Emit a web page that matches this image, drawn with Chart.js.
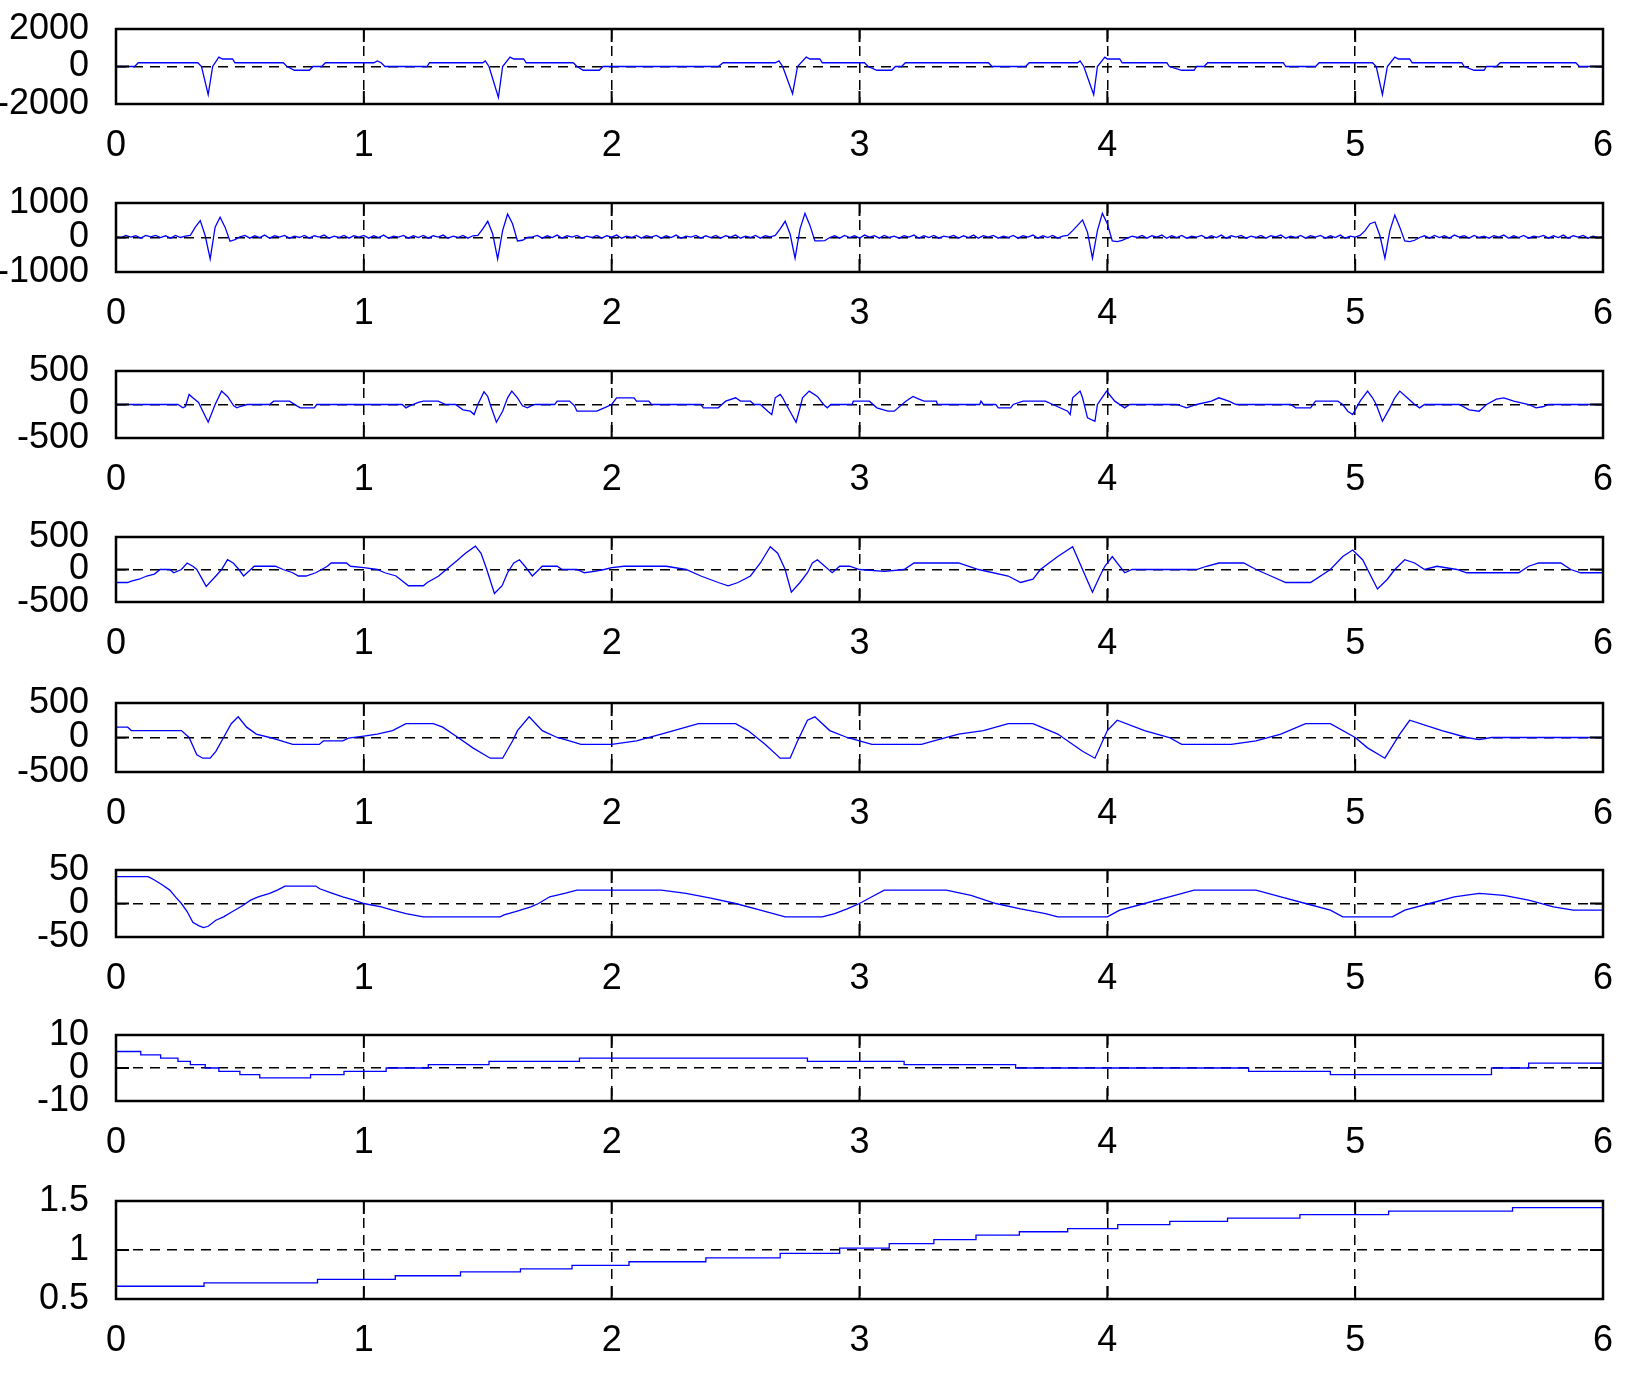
<!DOCTYPE html>
<html>
<head>
<meta charset="utf-8">
<script src="https://cdn.jsdelivr.net/npm/chart.js@4.4.1/dist/chart.umd.min.js"></script>
<style>
  html, body { margin: 0; padding: 0; background: #fff; }
  #wrap { position: relative; width: 1630px; height: 1378px; overflow: hidden; }
  #wrap canvas { position: absolute; left: 0; }
</style>
</head>
<body>
<div id="wrap"></div>
<script>
// x axis (seconds)
const xTicks = [0, 1, 2, 3, 4, 5, 6];

// y tick labels per panel
const yTicks1 = [-2000, 0, 2000];
const yTicks2 = [-1000, 0, 1000];
const yTicks3 = [-500, 0, 500];
const yTicks4 = [-500, 0, 500];
const yTicks5 = [-500, 0, 500];
const yTicks6 = [-50, 0, 50];
const yTicks7 = [-10, 0, 10];
const yTicks8 = [0.5, 1, 1.5];

// panel 1: [t, value]
const p1 = [[0,0],[0.075,0],[0.09,200],[0.33,200],[0.345,0],[0.372,-1500],[0.39,0],[0.415,500],[0.43,400],
  [0.47,400],[0.48,200],[0.675,200],[0.69,0],[0.72,-200],[0.78,-200],[0.795,0],[0.83,0],[0.845,200],
  [1.04,200],[1.055,300],[1.07,200],[1.085,0],[1.255,0],[1.265,200],[1.48,200],[1.49,300],[1.505,0],
  [1.543,-1650],[1.56,0],[1.59,500],[1.605,400],[1.645,400],[1.655,200],[1.845,200],[1.86,0],[1.885,-200],
  [1.95,-200],[1.965,0],[2.43,0],[2.45,200],[2.66,200],[2.675,300],[2.69,0],[2.73,-1450],[2.75,0],
  [2.785,500],[2.8,400],[2.84,400],[2.85,200],[3.02,200],[3.035,0],[3.07,-200],[3.13,-200],[3.145,0],
  [3.17,0],[3.185,200],[3.52,200],[3.535,0],[3.67,0],[3.685,200],[3.88,200],[3.89,300],[3.905,0],
  [3.945,-1500],[3.96,0],[3.99,500],[4.0,400],[4.05,400],[4.06,200],[4.24,200],[4.25,0],[4.3,-200],
  [4.35,-200],[4.36,0],[4.39,0],[4.405,200],[4.71,200],[4.72,0],[4.84,0],[4.855,200],[5.07,200],
  [5.085,0],[5.11,-1500],[5.13,0],[5.16,500],[5.175,400],[5.22,400],[5.23,200],[5.43,200],[5.44,0],
  [5.48,-200],[5.52,-200],[5.53,0],[5.57,0],[5.585,200],[5.89,200],[5.905,0],[6,0]];

// panel 2: sampled every 0.02 s from t = 0
const p2Step = 0.02;
const p2 = [20,0,60,10,50,-20,60,20,60,0,
  50,-20,60,0,40,60,300,490,50,-620,
  300,590,300,-110,-60,20,60,-20,50,0,
  70,-20,50,10,60,-20,40,0,60,-20,
  50,10,70,-20,40,0,60,-20,50,10,
  60,-20,50,0,70,-20,40,10,60,-20,
  50,0,60,-20,50,10,70,-20,40,0,
  60,-20,50,60,250,470,100,-620,200,680,
  400,-100,-80,0,20,60,-20,50,0,70,
  -20,50,10,60,-20,40,0,60,-20,50,
  10,70,-20,40,0,60,-20,50,10,60,
  -20,50,0,70,-20,40,10,60,-20,50,
  0,60,-20,50,10,70,-20,40,0,60,
  -20,50,20,60,250,470,100,-600,250,700,
  350,-100,-100,-90,0,50,-20,60,0,50,
  -20,70,10,50,-20,60,0,40,-20,50,
  10,70,-20,50,0,60,-20,40,10,60,
  -20,50,0,70,-20,50,10,60,-20,40,
  0,60,-20,50,10,70,-20,50,0,60,
  -20,40,60,200,350,510,150,-600,200,700,
  400,-100,-120,-80,-20,40,0,60,-20,50,
  10,70,-20,50,0,60,-20,40,10,60,
  -20,50,0,70,-20,50,10,60,-20,40,
  0,60,-20,50,20,70,-20,40,0,60,
  -20,50,10,60,-20,50,0,70,-20,40,
  10,60,200,400,450,50,-600,200,650,300,
  -100,-120,-80,0,50,-20,60,0,50,-20,
  70,10,50,-20,60,0,40,-20,50,10,
  70,-20,50,0,60,-20,40,10,60,-20,
  50,0,70,-20,50,10,60,-20,40,0,
  20];

// panel 3
const p3 = [[0,0],[0.25,0],[0.27,-50],[0.28,-30],[0.295,150],[0.31,100],[0.333,30],[0.372,-265],[0.4,0],
  [0.426,200],[0.45,120],[0.475,-20],[0.488,-50],[0.5,-30],[0.53,0],[0.62,0],[0.636,50],[0.7,50],
  [0.73,-20],[0.744,-50],[0.8,-50],[0.81,0],[1.155,0],[1.17,-50],[1.185,-20],[1.22,30],[1.24,50],
  [1.3,50],[1.33,0],[1.37,0],[1.4,-80],[1.43,-100],[1.445,-150],[1.46,0],[1.485,190],[1.5,120],
  [1.51,0],[1.535,-265],[1.56,-100],[1.58,100],[1.597,200],[1.62,100],[1.64,-20],[1.66,-50],
  [1.675,-20],[1.69,0],[1.77,0],[1.78,50],[1.83,50],[1.85,-20],[1.86,-100],[1.94,-100],[1.97,-50],
  [2.0,0],[2.02,100],[2.09,100],[2.1,50],[2.15,50],[2.16,0],[2.36,0],[2.37,-50],[2.43,-50],[2.46,50],
  [2.5,100],[2.52,50],[2.56,50],[2.575,0],[2.6,0],[2.63,-100],[2.646,-150],[2.66,100],[2.68,150],
  [2.69,100],[2.704,0],[2.744,-265],[2.76,-50],[2.77,100],[2.797,200],[2.83,120],[2.855,0],[2.87,-50],
  [2.885,0],[2.97,0],[2.975,50],[3.04,50],[3.07,-50],[3.115,-100],[3.14,-100],[3.187,50],[3.216,120],
  [3.24,80],[3.26,50],[3.31,50],[3.315,0],[3.485,0],[3.49,50],[3.5,0],[3.55,0],[3.56,-50],[3.61,-50],
  [3.62,0],[3.66,50],[3.75,50],[3.78,0],[3.84,-100],[3.85,-150],[3.86,100],[3.89,200],[3.9,100],
  [3.92,-200],[3.95,-250],[3.96,0],[3.997,200],[4.03,50],[4.07,-50],[4.09,0],[4.28,0],[4.32,-50],
  [4.36,0],[4.42,50],[4.45,100],[4.49,50],[4.52,0],[4.74,0],[4.76,-50],[4.82,-50],[4.84,50],[4.93,50],
  [4.95,0],[4.97,-100],[4.99,-150],[5.02,50],[5.05,200],[5.07,100],[5.085,0],[5.11,-250],[5.14,-50],
  [5.16,100],[5.18,200],[5.21,100],[5.24,0],[5.26,-50],[5.28,0],[5.42,0],[5.46,-80],[5.5,-100],
  [5.53,0],[5.57,80],[5.6,100],[5.64,50],[5.7,0],[5.73,-50],[5.76,-30],[5.78,0],[6,0]];

// panel 4
const p4 = [[0,-200],[0.047,-200],[0.062,-180],[0.093,-150],[0.124,-100],[0.155,-70],[0.178,0],[0.217,0],
  [0.233,-50],[0.264,0],[0.287,100],[0.31,50],[0.326,0],[0.364,-260],[0.403,-100],[0.426,0],[0.45,150],
  [0.473,100],[0.496,0],[0.515,-100],[0.558,50],[0.643,50],[0.674,0],[0.713,-50],[0.736,-100],
  [0.767,-100],[0.806,-50],[0.853,50],[0.868,100],[0.93,100],[0.946,50],[1.0,30],[1.054,0],
  [1.085,-50],[1.13,-100],[1.18,-250],[1.24,-250],[1.256,-200],[1.302,-100],[1.333,0],[1.38,150],
  [1.41,250],[1.45,360],[1.473,250],[1.496,0],[1.527,-370],[1.558,-250],[1.58,-50],[1.605,100],
  [1.628,150],[1.65,50],[1.68,-100],[1.72,50],[1.78,50],[1.8,0],[1.86,0],[1.89,-50],[1.93,-30],
  [1.97,0],[2.0,30],[2.05,50],[2.22,50],[2.3,0],[2.36,-100],[2.43,-200],[2.47,-250],[2.51,-200],
  [2.56,-100],[2.6,100],[2.64,350],[2.67,250],[2.7,0],[2.725,-350],[2.76,-200],[2.79,-50],[2.81,100],
  [2.83,150],[2.86,50],[2.89,-50],[2.92,50],[2.96,50],[3.0,0],[3.1,-30],[3.18,0],[3.22,100],[3.4,100],
  [3.48,0],[3.6,-100],[3.65,-200],[3.7,-150],[3.73,0],[3.8,200],[3.86,350],[3.9,0],[3.94,-350],
  [3.97,-100],[3.99,50],[4.02,200],[4.07,-50],[4.1,0],[4.36,0],[4.4,50],[4.45,100],[4.55,100],[4.6,0],
  [4.66,-100],[4.72,-200],[4.82,-200],[4.9,0],[4.95,200],[4.99,300],[5.03,150],[5.05,0],[5.09,-300],
  [5.13,-150],[5.16,0],[5.2,150],[5.24,100],[5.28,0],[5.33,50],[5.41,0],[5.45,-50],[5.66,-50],
  [5.7,50],[5.74,100],[5.83,100],[5.87,0],[5.91,-50],[6,-50]];

// panel 5
const p5 = [[0,150],[0.047,150],[0.062,100],[0.264,100],[0.295,0],[0.326,-250],[0.35,-300],[0.38,-300],
  [0.403,-200],[0.434,0],[0.465,200],[0.493,300],[0.527,150],[0.566,50],[0.62,0],[0.667,-50],
  [0.713,-100],[0.82,-100],[0.837,-50],[0.915,-50],[0.938,-10],[1.0,20],[1.054,50],[1.116,100],
  [1.17,200],[1.28,200],[1.318,150],[1.38,0],[1.44,-150],[1.51,-300],[1.56,-300],[1.6,-50],[1.62,100],
  [1.667,300],[1.72,100],[1.78,0],[1.83,-50],[1.876,-100],[2.0,-100],[2.1,-50],[2.2,50],[2.35,200],
  [2.5,200],[2.55,100],[2.62,-100],[2.68,-300],[2.72,-300],[2.75,-50],[2.79,250],[2.82,300],[2.88,100],
  [2.95,0],[3.0,-50],[3.05,-100],[3.25,-100],[3.3,-50],[3.4,50],[3.5,100],[3.6,200],[3.7,200],[3.8,50],
  [3.9,-200],[3.95,-300],[4.0,100],[4.04,250],[4.15,100],[4.25,0],[4.3,-100],[4.5,-100],[4.6,-50],
  [4.7,50],[4.8,200],[4.9,200],[5.0,0],[5.05,-150],[5.12,-300],[5.18,50],[5.22,250],[5.35,100],
  [5.45,0],[5.5,-30],[5.55,0],[6,0]];

// panel 6
const p6 = [[0,40],[0.13,40],[0.155,35],[0.186,28],[0.217,20],[0.24,10],[0.264,0],[0.287,-12],[0.31,-28],
  [0.333,-33],[0.353,-36],[0.372,-34],[0.403,-25],[0.434,-20],[0.465,-13],[0.512,-3],[0.543,5],
  [0.574,10],[0.62,15],[0.651,20],[0.682,26],[0.806,26],[0.822,22],[0.868,16],[0.915,10],[0.961,5],
  [1.0,0],[1.07,-5],[1.116,-10],[1.17,-15],[1.24,-20],[1.55,-20],[1.566,-17],[1.612,-12],[1.674,-5],
  [1.705,0],[1.75,10],[1.81,15],[1.86,20],[2.2,20],[2.3,15],[2.4,8],[2.5,0],[2.6,-10],[2.7,-20],
  [2.85,-20],[2.9,-15],[2.95,-8],[3.0,0],[3.05,10],[3.1,20],[3.35,20],[3.45,12],[3.55,0],[3.65,-8],
  [3.75,-15],[3.8,-20],[4.0,-20],[4.05,-10],[4.15,0],[4.25,10],[4.35,20],[4.6,20],[4.7,10],[4.8,0],
  [4.9,-10],[4.95,-20],[5.15,-20],[5.2,-10],[5.3,0],[5.4,10],[5.5,15],[5.6,12],[5.7,5],[5.8,-5],
  [5.88,-10],[6,-10]];

// panel 7: step start times and levels
const p7Edges = [0, 0.10, 0.18, 0.25, 0.30, 0.36, 0.415, 0.50, 0.58, 0.785, 0.92, 1.09, 1.26, 1.505,
  1.87, 2.79, 3.18, 3.63, 4.57, 4.9, 5.55, 5.7, 6];
const p7Levels = [5, 4, 3, 2, 1, 0, -1, -2, -3, -2, -1, 0, 1, 2, 3, 2, 1, 0, -1, -2, 0, 1.5, 1.5];

// panel 8: step start times and levels
const p8Edges = [0, 0.355, 0.813, 1.127, 1.39, 1.632, 1.84, 2.07, 2.38, 2.68, 2.92, 3.12, 3.3, 3.47,
  3.645, 3.84, 4.042, 4.252, 4.485, 4.777, 5.135, 5.635, 6];
const p8Levels = [0.63, 0.665, 0.70, 0.737, 0.777, 0.808, 0.844, 0.88, 0.92, 0.965, 1.02, 1.065, 1.105,
  1.152, 1.186, 1.219, 1.259, 1.293, 1.326, 1.36, 1.396, 1.433, 1.433];

function pairs(list) {
  return list.map(p => ({ x: p[0], y: p[1] }));
}
function sampled(values, step) {
  return values.map((v, i) => ({ x: i * step, y: v }));
}
function steps(edges, levels) {
  return edges.map((t, i) => ({ x: t, y: levels[i] }));
}

const panels = [
  { points: pairs(p1), ticks: yTicks1, ref: 0 },
  { points: sampled(p2, p2Step), ticks: yTicks2, ref: 0 },
  { points: pairs(p3), ticks: yTicks3, ref: 0 },
  { points: pairs(p4), ticks: yTicks4, ref: 0 },
  { points: pairs(p5), ticks: yTicks5, ref: 0 },
  { points: pairs(p6), ticks: yTicks6, ref: 0 },
  { points: steps(p7Edges, p7Levels), ticks: yTicks7, ref: 0, stepped: true },
  { points: steps(p8Edges, p8Levels), ticks: yTicks8, ref: 1, stepped: true }
];

// plot box position of each panel (px)
const boxes = [
  { top: 29, h: 75 }, { top: 203, h: 69 }, { top: 371, h: 67 }, { top: 537, h: 65 },
  { top: 703, h: 69 }, { top: 870, h: 67 }, { top: 1035, h: 66 }, { top: 1201, h: 98 }
];
const boxLeft = 116, boxRight = 1603, padTop = 26, xAxisH = 64;

Chart.defaults.font.family = "'Liberation Sans', Arial, sans-serif";
Chart.defaults.font.size = 36;
Chart.defaults.color = '#000';

const framePlugin = {
  id: 'frame',
  afterDraw(chart) {
    const { ctx, chartArea: a, scales: { x, y } } = chart;
    const refValue = chart.options.plugins.frame.ref;
    ctx.save();
    ctx.strokeStyle = '#000';
    ctx.lineWidth = 2;
    ctx.beginPath();
    x.ticks.forEach(t => {
      const px = x.getPixelForValue(t.value);
      ctx.moveTo(px, a.top); ctx.lineTo(px, a.top + 13);
      ctx.moveTo(px, a.bottom); ctx.lineTo(px, a.bottom - 13);
    });
    const py = y.getPixelForValue(refValue);
    ctx.moveTo(a.left, py); ctx.lineTo(a.left + 13, py);
    ctx.moveTo(a.right, py); ctx.lineTo(a.right - 13, py);
    ctx.stroke();
    ctx.lineWidth = 2.5;
    ctx.strokeRect(a.left, a.top, a.right - a.left, a.bottom - a.top);
    ctx.restore();
  }
};

const wrap = document.getElementById('wrap');

panels.forEach((p, i) => {
  const box = boxes[i];
  const canvas = document.createElement('canvas');
  canvas.width = 1630;
  canvas.height = padTop + box.h + xAxisH;
  canvas.style.top = (box.top - padTop) + 'px';
  wrap.appendChild(canvas);

  new Chart(canvas.getContext('2d'), {
    type: 'scatter',
    data: {
      datasets: [{
        data: p.points,
        showLine: true,
        stepped: p.stepped || false,
        borderColor: '#0000ff',
        borderWidth: 1.3,
        pointRadius: 0,
        tension: 0
      }]
    },
    options: {
      responsive: false,
      animation: false,
      devicePixelRatio: 1,
      layout: { padding: { top: padTop, right: 1630 - boxRight, left: 0, bottom: 0 } },
      plugins: {
        legend: { display: false },
        tooltip: { enabled: false },
        frame: { ref: p.ref }
      },
      scales: {
        x: {
          type: 'linear',
          min: 0,
          max: 6,
          afterBuildTicks: s => { s.ticks = xTicks.map(v => ({ value: v })); },
          afterFit: s => { s.height = xAxisH; s.paddingLeft = 0; s.paddingRight = 0; },
          ticks: { padding: 20, callback: v => String(v), maxRotation: 0, autoSkip: false },
          grid: {
            drawTicks: false,
            lineWidth: 1.5,
            color: c => (c.tick && (c.tick.value === 0 || c.tick.value === 6)) ? 'rgba(0,0,0,0)' : '#000'
          },
          border: { display: false, dash: [10, 7] }
        },
        y: {
          type: 'linear',
          min: p.ticks[0],
          max: p.ticks[2],
          afterBuildTicks: s => { s.ticks = p.ticks.map(v => ({ value: v })); },
          afterFit: s => { s.width = boxLeft; s.paddingTop = 0; s.paddingBottom = 0; },
          ticks: { padding: 27, callback: v => String(v), autoSkip: false },
          grid: {
            drawTicks: false,
            lineWidth: 1.5,
            color: c => (c.tick && c.tick.value === p.ref) ? '#000' : 'rgba(0,0,0,0)'
          },
          border: { display: false, dash: [10, 7] }
        }
      }
    },
    plugins: [framePlugin]
  });
});
</script>
</body>
</html>
